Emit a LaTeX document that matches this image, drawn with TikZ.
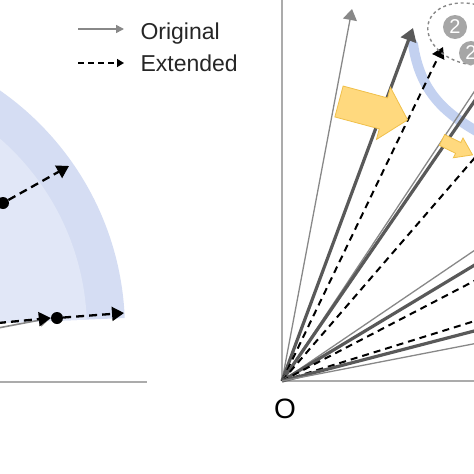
\documentclass[tikz,border=0pt]{standalone}
\usepackage{fontspec}
\setmainfont{Liberation Sans}
\usetikzlibrary{arrows.meta,shapes.geometric}
\definecolor{axisgray}{HTML}{ABABAB}
\definecolor{thingray}{HTML}{888888}
\definecolor{thickgray}{HTML}{595959}
\definecolor{fanout}{HTML}{D5DDF3}
\definecolor{fanin}{HTML}{E1E7F7}
\definecolor{arcblue}{HTML}{C3D1F0}
\definecolor{yfill}{HTML}{FFD97E}
\definecolor{yedge}{HTML}{F0C04A}
\definecolor{badge}{HTML}{A6A6A6}
\begin{document}
\begin{tikzpicture}[x=1pt,y=-1pt,
  axisline/.style={draw=axisgray,line width=1.5pt},
  thinline/.style={draw=thingray,line width=1.3pt},
  thickline/.style={draw=thickgray,line width=3.2pt},
  dashline/.style={draw=black,line width=2pt,dash pattern=on 7pt off 5pt},
  thinarrow/.style={thinline,-{Triangle[length=11pt,width=14pt]}},
  thickarrow/.style={thickline,-{Triangle[length=13pt,width=16pt]}},
  dasharrow/.style={dashline,-{Triangle[length=11pt,width=13pt]}},
  ldash/.style={draw=black,line width=2.3pt,dash pattern=on 8pt off 5pt,-{Triangle[length=12pt,width=14pt]}},
  lgray/.style={draw=thingray,line width=1.6pt,-{Triangle[length=11pt,width=13pt]}},
  dot/.style={circle,fill=black,inner sep=0pt,minimum size=12pt},
  yarrow/.style={fill=yfill,draw=yedge,line width=0.8pt},
  badgestyle/.style={circle,fill=badge,inner sep=0pt,minimum size=24pt,text=white,font=\fontsize{20}{20}\selectfont},
  legtext/.style={anchor=base west,font=\fontsize{23}{27}\selectfont,text=black!85}
]
\useasboundingbox (0,0) rectangle (474,474);
\clip (0,0) rectangle (474,474);

% ---------- left panel: fan ----------
\coordinate (C) at (-167,330);
\fill[fanout] (C) -- ++(-2.35:292) arc[start angle=-2.35,end angle=-90,radius=292] -- cycle;
\fill[fanin] (C) -- ++(-2.35:254) arc[start angle=-2.35,end angle=-90,radius=254] -- cycle;

\coordinate (lb) at (-2,328);
\coordinate (lbd) at (-2,323);
\node[dot] (d2) at (57,318) {};
\coordinate (e2) at (124,313);
\draw[lgray] (lb) -- (d2.west);
\draw[ldash] (lbd) -- (d2.west);
\draw[ldash] (d2) -- (e2);

\node[dot] (d1) at (3,203) {};
\coordinate (e1) at (69,166);
\draw[ldash] (d1) -- (e1);

\coordinate (la) at (0,382);
\coordinate (lb2) at (147,382);
\draw[axisline] (la) -- (lb2);

% legend
\coordinate (g1) at (78,29);
\coordinate (g2) at (124,29);
\draw[draw=thingray,line width=1.6pt,-{Triangle[length=8pt,width=8pt]}] (g1) -- (g2);
\coordinate (h1) at (78,63);
\coordinate (h2) at (124,63);
\draw[draw=black,line width=1.6pt,dash pattern=on 6pt off 4pt,-{Triangle[length=7pt,width=8pt]}] (h1) -- (h2);
\node[legtext] (t1) at (137,39) {Original};
\node[legtext] (t2) at (137,71) {Extended};

% ---------- right panel ----------
\coordinate (O) at (282,381);
\coordinate (top) at (282,-2);
\coordinate (rgt) at (476,381);
\draw[axisline] (O) -- (top);
\draw[axisline] (O) -- (rgt);

% blue arc
\coordinate (b1) at (413,44);
\coordinate (b2) at (478,132);
\draw[arcblue,line width=10pt,line cap=round] (b1) .. controls (420,92) and (445,113) .. (b2);

% group 1
\coordinate (a1) at (352,9);
\coordinate (a2) at (413,28);
\coordinate (a3) at (443,47);
\draw[thinarrow] (O) -- (a1);
\draw[thickarrow] (O) -- (a2);
\draw[dasharrow] (O) -- (a3);
% group 2
\coordinate (a4) at (478,86);
\coordinate (a5) at (478,96);
\coordinate (a6) at (478,154);
\draw[thinline] (O) -- (a4);
\draw[thickline] (O) -- (a5);
\draw[dashline] (O) -- (a6);
% group 3
\coordinate (a7) at (478,248);
\coordinate (a8) at (478,263);
\coordinate (a9) at (478,279);
\draw[thinline] (O) -- (a7);
\draw[thickline] (O) -- (a8);
\draw[dashline] (O) -- (a9);
% group 4
\coordinate (a10) at (478,320);
\coordinate (a11) at (478,330);
\coordinate (a12) at (478,343);
\draw[dashline] (O) -- (a10);
\draw[thickline] (O) -- (a11);
\draw[thinline] (O) -- (a12);

% yellow arrows
\begin{scope}[shift={(339,101.5)},rotate=-15]
\draw[yarrow] (0,-16) -- (46,-16) -- (46,-27) -- (71,0) -- (46,27) -- (46,16) -- (0,16) -- cycle;
\end{scope}
\begin{scope}[shift={(442,140)},rotate=-26]
\draw[yarrow] (0,-6) -- (18,-6) -- (18,-11) -- (34,0) -- (18,11) -- (18,6) -- (0,6) -- cycle;
\end{scope}

% dashed ellipse and badges
\node[draw=thingray,dashed,line width=1.4pt,ellipse,minimum width=86pt,minimum height=60pt,inner sep=0pt,rotate=-15] (ell) at (470,34) {};
\node[badgestyle] (n1) at (455,27) {2};
\node[badgestyle] (n2) at (471,53) {2};

\node[anchor=base,font=\fontsize{28}{30}\selectfont] (lo) at (285,418) {O};
\end{tikzpicture}
\end{document}
